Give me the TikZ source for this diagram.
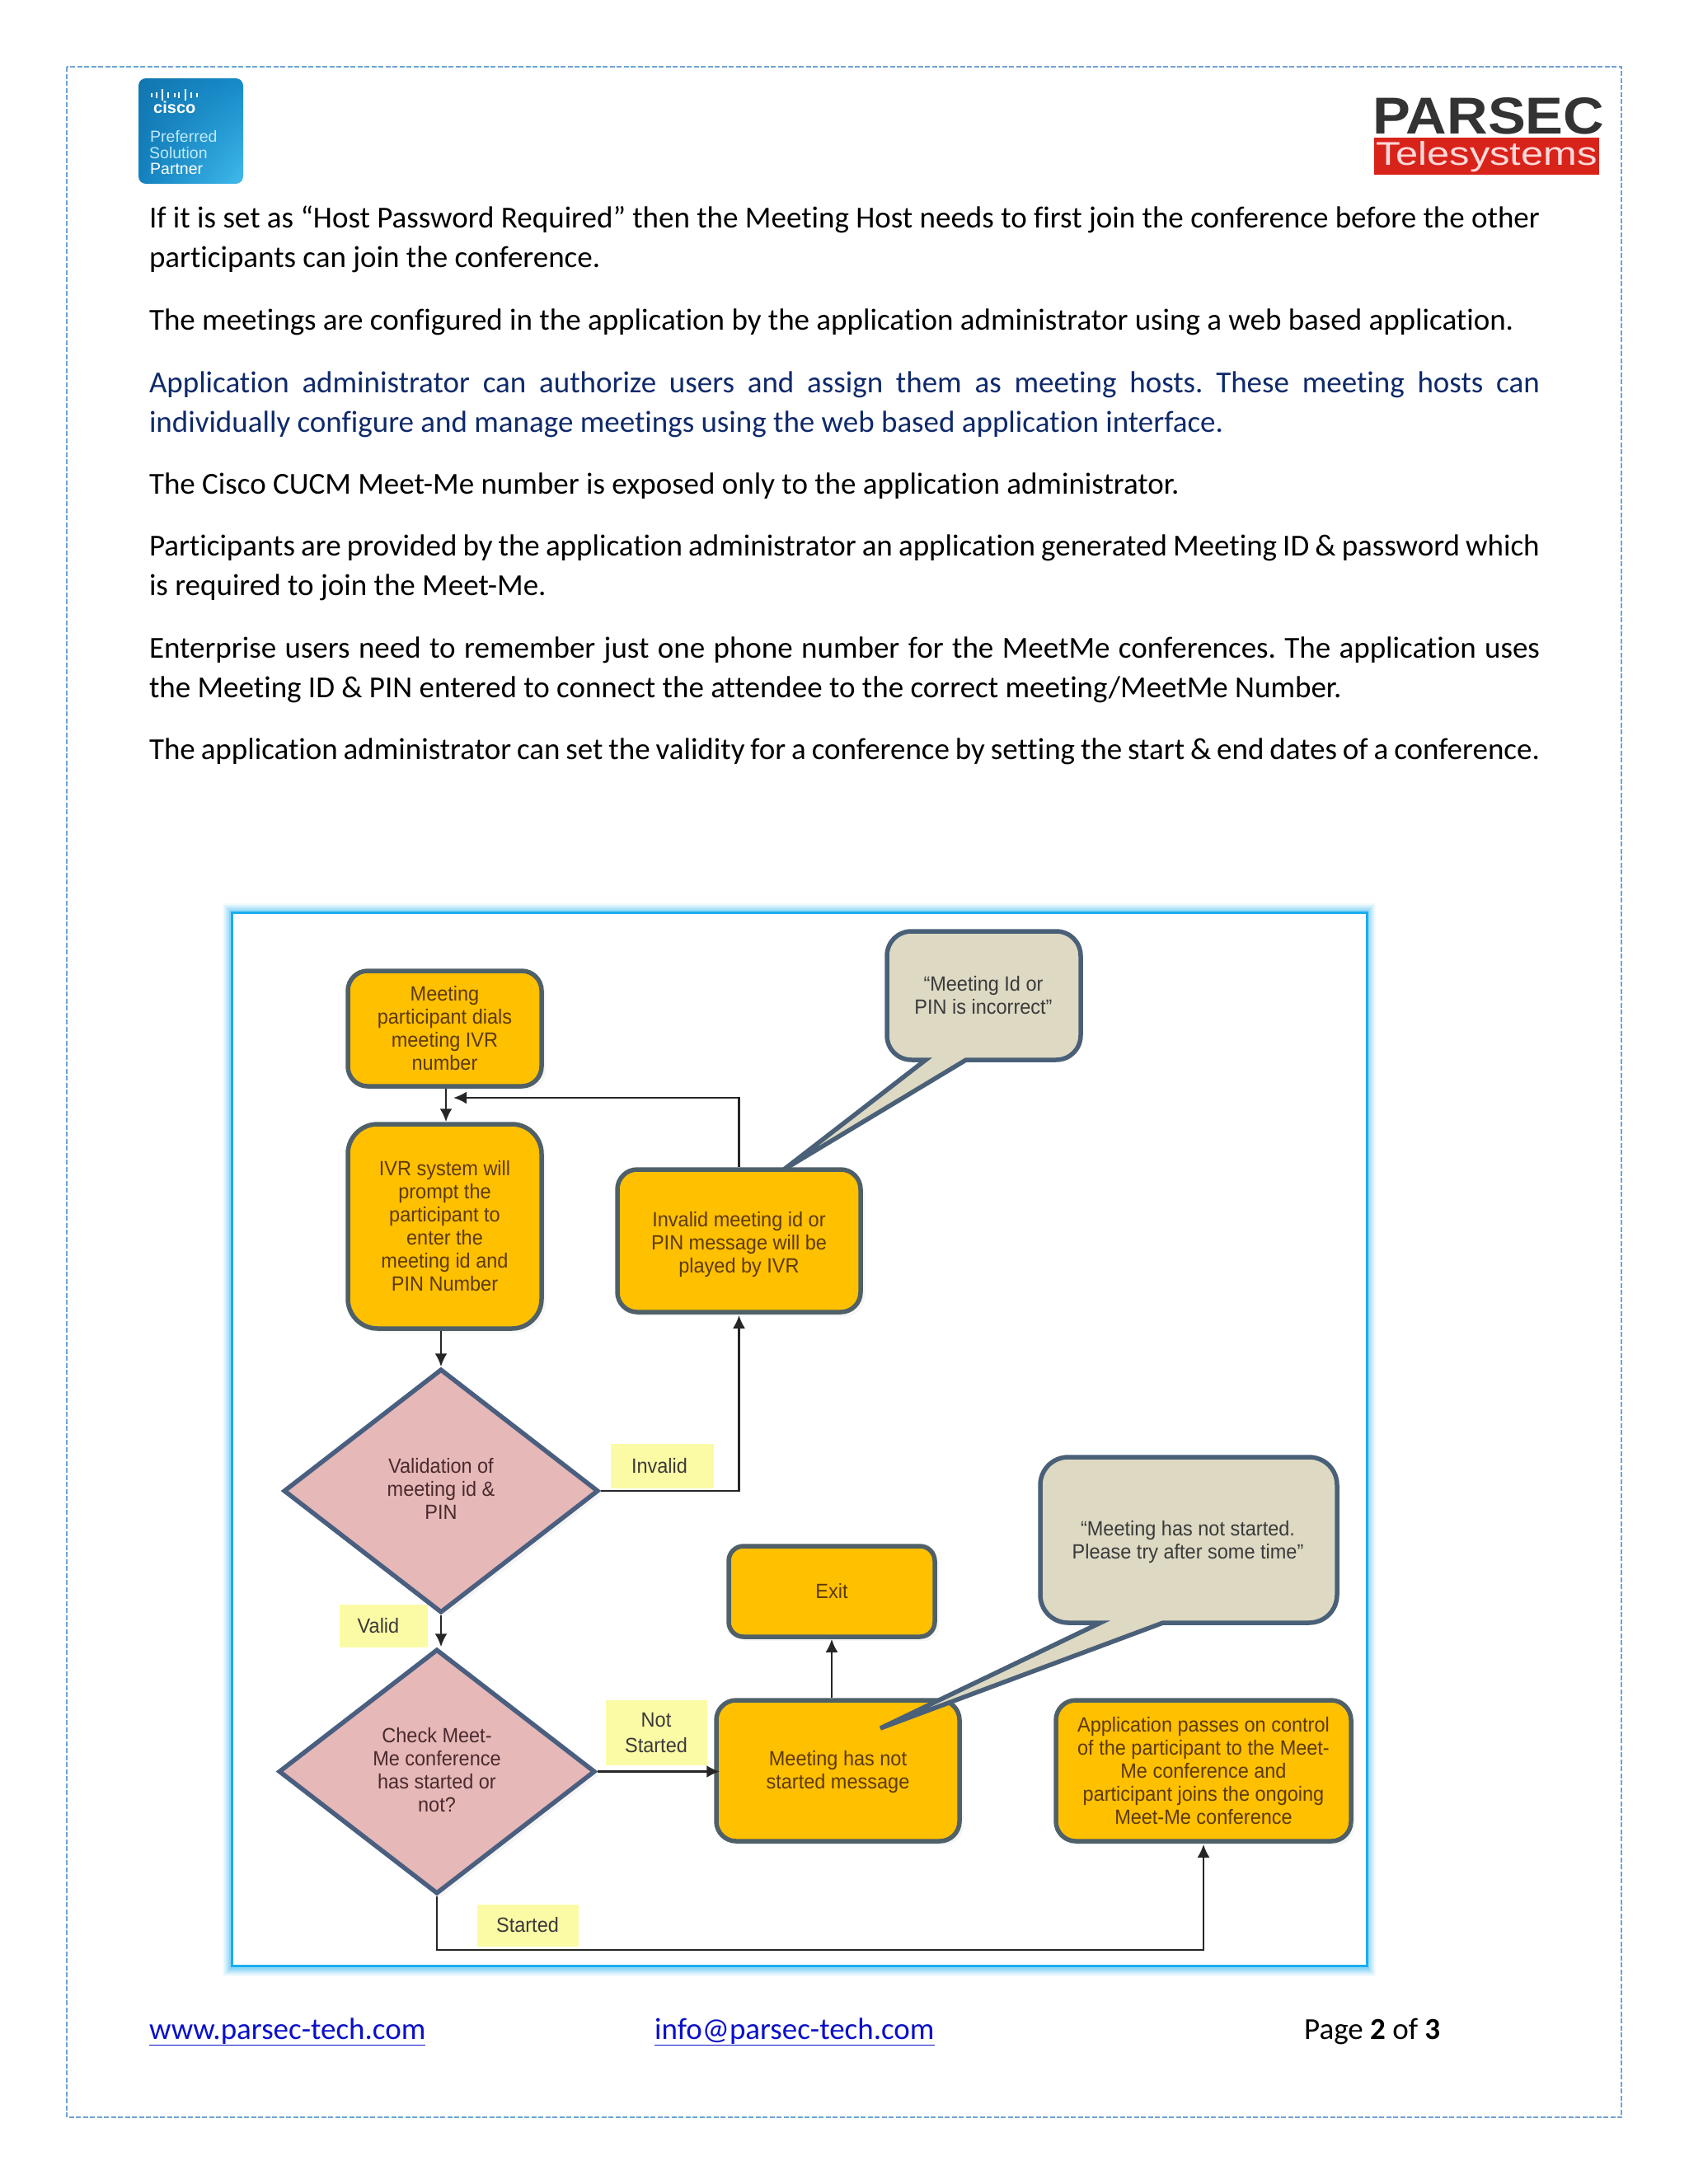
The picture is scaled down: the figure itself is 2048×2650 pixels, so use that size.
\documentclass[tikz,border=0pt]{standalone}
\usepackage{fontspec}
\setmainfont[Ligatures={NoCommon}]{Carlito}
\newfontfamily\figfont[FakeStretch=0.94]{Liberation Sans}
\newfontfamily\arialfont{Liberation Sans}
\newfontfamily\logofont[FakeStretch=1.09]{Liberation Sans}
\newfontfamily\telefont[FakeStretch=1.22]{Liberation Sans}
\usetikzlibrary{shapes.geometric,arrows.meta,shadings,shadows}
\definecolor{framedash}{HTML}{6FA3D6}
\definecolor{navytext}{HTML}{0F2A6B}
\definecolor{linkblue}{HTML}{0A10C8}
\definecolor{frameblue}{HTML}{19AEEF}
\definecolor{boxfill}{HTML}{FFC000}
\definecolor{boxline}{HTML}{4F6068}
\definecolor{boxtext}{HTML}{5C3A08}
\definecolor{diafill}{HTML}{E6B8B7}
\definecolor{dialine}{HTML}{4A5F80}
\definecolor{diatext}{HTML}{4A2A2E}
\definecolor{callfill}{HTML}{DDD9C3}
\definecolor{callline}{HTML}{4A6078}
\definecolor{labelfill}{HTML}{FBFBA6}
\definecolor{darktext}{HTML}{3A3A3A}
\definecolor{parsecred}{HTML}{D8231B}
\definecolor{cbul}{HTML}{1276B0}
\definecolor{cbur}{HTML}{168AC8}
\definecolor{cbll}{HTML}{1280BE}
\definecolor{cblr}{HTML}{40BAEC}
\tikzset{
  x=1pt,y=-1pt,
  softshade/.style={drop shadow={shadow xshift=5pt,shadow yshift=-5pt,opacity=.07}},
  para/.style={anchor=base west,text width=1687pt,inner sep=0pt,outer sep=0pt,align=justify,
    font=\frenchspacing\fontsize{37}{48}\selectfont},
  foot/.style={anchor=base west,inner sep=0pt,font=\fontsize{37}{48}\selectfont},
  flowbox/.style={rectangle,rounded corners=24pt,draw=boxline,line width=5.5pt,fill=boxfill,softshade,
    text=boxtext,align=center,inner sep=0pt,font=\figfont\fontsize{25}{28}\selectfont},
  decide/.style={diamond,draw=dialine,line width=5.5pt,fill=diafill,softshade,text=diatext,align=center,
    inner sep=0pt,font=\figfont\fontsize{25}{28}\selectfont},
  tag/.style={rectangle,fill=labelfill,text=darktext,align=center,inner sep=0pt,
    font=\figfont\fontsize{25}{31}\selectfont},
  callshape/.style={draw=callline,line width=5.5pt,fill=callfill,line join=miter},
  calltext/.style={text=darktext,align=center,inner sep=0pt,font=\figfont\fontsize{25}{28}\selectfont},
  flow/.style={draw=black!85,line width=2.5pt,-{Latex[length=16pt,width=15pt]}},
  badge/.style={inner sep=0pt,anchor=base west,font=\arialfont\fontsize{19.5}{20}\selectfont},
  bar/.style={draw=white,line width=2.2pt}
}
\begin{document}
\begin{tikzpicture}
\useasboundingbox (0,0) rectangle (2048,2650);
\fill[white] (0,0) rectangle (2048,2650);
% page frame
\draw[framedash,line width=2pt,dash pattern=on 6pt off 2.5pt] (81,81) rectangle (1967,2569);
% cisco badge
\shade[rounded corners=9pt,lower left=cbll,upper left=cbul,upper right=cbur,lower right=cblr] (168,95) rectangle (295,223);
\foreach \bx/\bh in {184/3,190/4,197/8,204/4,212/3,217/4,225/8,232/4,239/3}
  \draw[bar] (\bx,116-\bh) -- (\bx,116+\bh*0.7);
\node[badge,text=white,font=\arialfont\bfseries\fontsize{20}{20}\selectfont] (cisconame) at (186,137) {cisco};
\node[badge,text=white!75!cyan] (pref) at (182,172) {Preferred};
\node[badge,text=white!75!cyan] (sol) at (181,192) {Solution};
\node[badge,text=white] (partner) at (182,211) {Partner};
% parsec logo
\node[anchor=base west,inner sep=0pt,text=black!80,font=\logofont\bfseries\fontsize{63}{63}\selectfont] (parsec) at (1665,162) {PARSEC};
\fill[parsecred] (1667,167) rectangle (1940,212);
\node[anchor=base west,inner sep=0pt,text=white!85!red,font=\telefont\fontsize{40}{40}\selectfont] (tele) at (1669,200) {Telesystems};
% body text
\node[para] (p1) at (181,276) {If it is set as “Host Password Required” then the Meeting Host needs to first join the conference before the other\linebreak participants can join the conference.};
\node[para] (p2) at (181,400) {The meetings are configured in the application by the application administrator using a web based application.};
\node[para,text=navytext] (p3) at (181,476) {Application administrator can authorize users and assign them as meeting hosts. These meeting hosts can\linebreak individually configure and manage meetings using the web based application interface.};
\node[para] (p4) at (181,599) {The Cisco CUCM Meet-Me number is exposed only to the application administrator.};
\node[para] (p5) at (181,674) {Participants are provided by the application administrator an application generated Meeting ID \& password which\linebreak is required to join the Meet-Me.};
\node[para] (p6) at (181,798) {Enterprise users need to remember just one phone number for the MeetMe conferences. The application uses\linebreak the Meeting ID \& PIN entered to connect the attendee to the correct meeting/MeetMe Number.};
\node[para] (p7) at (181,921.5) {\parfillskip=0pt The application administrator can set the validity for a conference by setting the start \& end dates of a conference.};
% figure frame with glow
\foreach \g/\o in {22/.06,18/.09,14/.12,10/.15,6/.18}
  \draw[frameblue,opacity=\o,line width=\g pt] (281,1107) rectangle (1658,2387);
\draw[frameblue,line width=3pt,fill=white] (281,1107) rectangle (1658,2385);
% callout 1
\path[callshape] (1123,1286) -- (1106,1286) .. controls (1089,1286) and (1076,1273) .. (1076,1256) -- (1076,1160) .. controls (1076,1143) and (1089,1130) .. (1106,1130) -- (1281,1130) .. controls (1298,1130) and (1311,1143) .. (1311,1160) -- (1311,1256) .. controls (1311,1273) and (1298,1286) .. (1281,1286) -- (1172,1286) -- (951,1419) -- cycle;
\node[calltext] (c1) at (1193,1208) {“Meeting Id or\\PIN is incorrect”};
% flow boxes
\node[flowbox,minimum width=235pt,minimum height=140pt] (b1) at (539.5,1248) {Meeting\\participant dials\\meeting IVR\\number};
\node[flowbox,minimum width=235pt,minimum height=248pt,rounded corners=36pt] (b2) at (539.5,1488) {IVR system will\\prompt the\\participant to\\enter the\\meeting id and\\PIN Number};
\node[flowbox,minimum width=295pt,minimum height=173pt] (b3) at (896.5,1505.5) {\mbox{}\\[0pt]Invalid meeting id or\\PIN message will be\\played by IVR};
\node[decide,minimum width=382pt,minimum height=296pt,aspect=1.29] (d1) at (535,1809) {Validation of\\meeting id \&\\PIN\\[-22pt]\mbox{}};
\node[decide,minimum width=384pt,minimum height=297pt,aspect=1.29] (d2) at (530,2149.5) {Check Meet-\\Me conference\\has started or\\not?\\[-24pt]\mbox{}};
\node[flowbox,minimum width=250pt,minimum height=110pt,rounded corners=18pt] (ex) at (1009,1931) {Exit};
\node[flowbox,minimum width=295pt,minimum height=171pt] (b4) at (1016.5,2148.5) {\mbox{}\\[-6pt]Meeting has not\\started message};
\node[flowbox,minimum width=358pt,minimum height=171pt] (b5) at (1460,2148.5) {Application passes on control\\of the participant to the Meet-\\Me conference and\\participant joins the ongoing\\Meet-Me conference};
% tags
\node[tag,minimum width=125pt,minimum height=54pt] (tinv) at (803,1779) {Invalid\hspace*{6pt}};
\node[tag,minimum width=107pt,minimum height=52pt] (tval) at (465,1973) {Valid\hspace*{12pt}};
\node[tag,minimum width=123pt,minimum height=79pt] (tns) at (796,2102) {Not\\Started};
\node[tag,minimum width=123pt,minimum height=51pt] (tst) at (640,2336) {Started};
% callout 2 over the message box
\path[callshape] (1335,1969) -- (1296,1969) .. controls (1277,1969) and (1262,1954) .. (1262,1935) -- (1262,1802) .. controls (1262,1783) and (1277,1768) .. (1296,1768) -- (1588,1768) .. controls (1607,1768) and (1622,1783) .. (1622,1802) -- (1622,1935) .. controls (1622,1954) and (1607,1969) .. (1588,1969) -- (1411,1969) -- (1068,2097) -- cycle;
\node[calltext] (c2) at (1441,1871) {“Meeting has not started.\\Please try after some time”};
% connectors
\coordinate (fb) at (550,1332);
\coordinate (lowrun) at (530,2366);
\coordinate (v1) at (541,1300);
\draw[flow] (b1.south -| v1) -- (b2.north -| v1);
\draw[flow] (b3.north) -- (b3.north |- fb) -- (fb);
\draw[flow] (b2.south -| d1.north) -- (d1.north);
\draw[flow] (d1.east) -| ([yshift=-1pt]b3.south);
\draw[flow] (d1.south) -- (d2.north -| d1.south);
\draw[flow] (d2.east) -- ([xshift=7pt]b4.west |- d2.east);
\draw[flow] (b4.north -| ex.south) -- (ex.south);
\draw[flow] (d2.south) -- (lowrun) -| ([yshift=-1pt]b5.south);
% footer
\node[foot,text=linkblue] (f1) at (181,2474) {\underline{www.parsec-tech.com}};
\node[foot,text=linkblue] (f2) at (794,2474) {\underline{info@parsec-tech.com}};
\node[foot] (f3) at (1582,2474) {Page \textbf{2} of \textbf{3}};
\end{tikzpicture}
\end{document}
